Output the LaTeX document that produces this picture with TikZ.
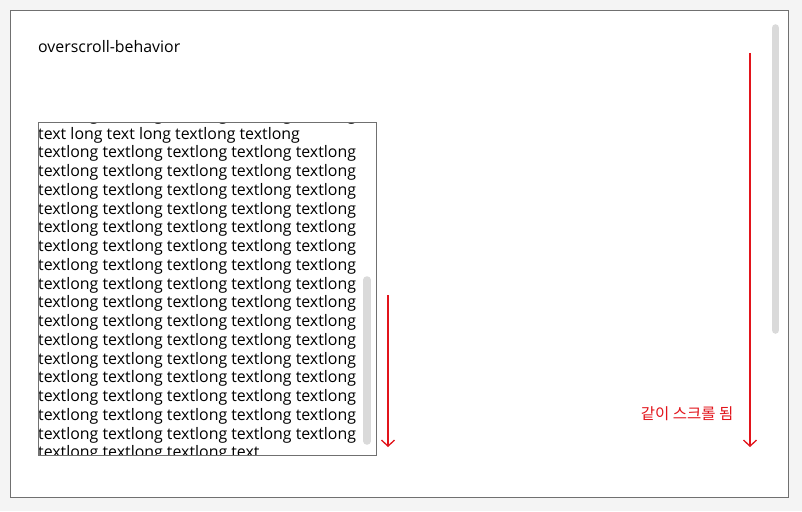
\documentclass[tikz,border=0pt]{standalone}
\usepackage{fontspec}
\setmainfont{Open Sans}
\newfontfamily\krfont{Noto Sans CJK KR}
\usetikzlibrary{arrows.meta}

\definecolor{pagebg}{HTML}{F4F4F4}
\definecolor{framegray}{HTML}{707070}
\definecolor{bargray}{HTML}{DADADA}
\definecolor{scrollred}{HTML}{E2141B}

\tikzset{
  txtline/.style={anchor=base west, inner sep=0pt, font=\fontsize{15.9}{18}\selectfont},
  redarrow/.style={draw=scrollred, line width=1.3pt, -{Straight Barb[length=6pt,width=13pt,line width=1.3pt]}},
  scrollbar/.style={draw=bargray, line width=7.5pt, line cap=round}
}

\begin{document}
\begin{tikzpicture}[x=1pt,y=-1pt]
				\fill[pagebg] (0,0) rectangle (802,511);
				\draw[framegray, fill=white] (10.5,10.5) rectangle (788.5,497.5);
				\node[txtline] (title) at (38,52.5) {overscroll-behavior};
				% scroll box
				\begin{scope}
					\clip (38.5,122.5) rectangle (376.5,455.5);
					\node[txtline] (top) at (38,120.25) {textlong textlong textlong textlong textlong};
					\node[txtline] (first) at (38,139) {text long text long textlong textlong};
					\foreach \i in {1,...,16}
						\node[txtline] (l\i) at (38,139+\i*18.75) {textlong textlong textlong textlong textlong};
					\node[txtline] (last) at (38,457.75) {textlong textlong textlong text};
					\draw[scrollbar] (367,280) -- (367,441);
				\end{scope}
				\draw[framegray] (38.5,122.5) rectangle (376.5,455.5);
				\draw[scrollbar] (775.5,28) -- (775.5,330);
				% arrows
				\coordinate (boxTop) at (388,295);
				\coordinate (boxEnd) at (388,447);
				\coordinate (pageTop) at (750,53);
				\coordinate (pageEnd) at (750,447);
				\draw[redarrow] (boxTop) -- (boxEnd);
				\draw[redarrow] (pageTop) -- (pageEnd);
				\node[inner sep=0pt, text=scrollred, font=\krfont\fontsize{15.5}{18}\selectfont] (note) at (687,414) {같이 스크롤 됨};
			\end{tikzpicture}
\end{document}
